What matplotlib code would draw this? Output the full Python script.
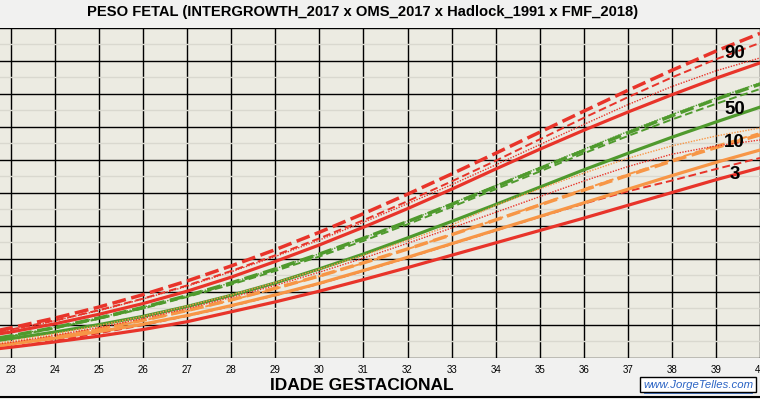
import numpy as np
import matplotlib
matplotlib.use("Agg")
from matplotlib import pyplot as plt
from matplotlib.lines import Line2D

plt.rcParams['font.family'] = ['Liberation Sans', 'DejaVu Sans']

weeks = [22, 23, 24, 25, 26, 27, 28, 29, 30, 31, 32, 33, 34, 35, 36, 37, 38, 39, 40]

# INTERGROWTH_2017 (solid)
ig_p3 = [370, 430, 495, 565, 645, 740, 860, 980, 1110, 1250, 1395, 1545, 1695, 1845, 1995, 2150, 2305, 2460, 2605]
ig_p10 = [410, 470, 540, 620, 710, 815, 935, 1065, 1205, 1360, 1520, 1685, 1850, 2015, 2180, 2345, 2510, 2670, 2820]
ig_p50 = [460, 535, 615, 705, 805, 925, 1060, 1210, 1380, 1560, 1755, 1955, 2160, 2370, 2580, 2780, 2975, 3160, 3340]
ig_p90 = [530, 615, 715, 830, 960, 1110, 1280, 1470, 1670, 1885, 2110, 2345, 2590, 2830, 3060, 3280, 3490, 3690, 3876]

# OMS_2017 (dashed)
oms_p3 = [365, 433, 510, 600, 700, 810, 930, 1060, 1200, 1355, 1515, 1680, 1845, 2010, 2170, 2320, 2450, 2590, 2724]
oms_p10 = [400, 470, 555, 650, 755, 870, 1000, 1140, 1290, 1450, 1620, 1795, 1975, 2160, 2345, 2525, 2700, 2870, 3027]
oms_p50 = [475, 560, 660, 775, 900, 1040, 1190, 1355, 1530, 1720, 1920, 2130, 2345, 2560, 2780, 2990, 3190, 3380, 3560]
oms_p90 = [545, 645, 755, 880, 1020, 1180, 1355, 1545, 1750, 1970, 2200, 2440, 2690, 2950, 3210, 3460, 3700, 3920, 4118]

# Hadlock_1991 (long dash)
had_p10 = [398, 471, 556, 652, 758, 876, 1004, 1145, 1294, 1453, 1621, 1794, 1973, 2154, 2335, 2513, 2686, 2851, 3004]
had_p50 = [478, 568, 670, 785, 913, 1055, 1210, 1379, 1559, 1751, 1953, 2162, 2377, 2595, 2813, 3028, 3236, 3435, 3619]
had_p90 = [559, 665, 784, 918, 1068, 1234, 1416, 1613, 1824, 2049, 2285, 2530, 2781, 3036, 3291, 3543, 3786, 4019, 4234]

# FMF_2018 (dotted)
fmf_p3 = [420, 490, 575, 670, 780, 900, 1035, 1180, 1340, 1510, 1690, 1875, 2065, 2255, 2445, 2620, 2770, 2870, 2942]
fmf_p10 = [430, 505, 595, 695, 805, 930, 1065, 1215, 1375, 1545, 1725, 1910, 2150, 2350, 2540, 2720, 2870, 2990, 3088]
fmf_p50 = [480, 570, 672, 788, 916, 1058, 1213, 1382, 1563, 1756, 1960, 2172, 2390, 2610, 2830, 3045, 3250, 3450, 3633]
fmf_p90 = [540, 640, 750, 875, 1015, 1170, 1345, 1530, 1730, 1945, 2170, 2400, 2640, 2885, 3130, 3370, 3590, 3780, 3936]

red = '#e8342a'
green = '#4f9a2d'
orange = '#f79646'

fig = plt.figure(figsize=(7.6, 3.99), dpi=100)
fig.patch.set_facecolor('#f1f1f0')
ax = fig.add_axes([0.0, 0.1028, 1.0, 0.8272])
ax.set_facecolor('#ecebe2')

# grid
for w in range(23, 41):
    ax.axvline(w, color='black', lw=1.0, zorder=1)
for g in np.arange(300, 4301, 400):
    ax.axhline(g, color='black', lw=1.0, zorder=1)
for g in np.arange(500, 4300, 400):
    ax.axhline(g, color='#d9d8cf', lw=1.0, zorder=1)

x = np.array(weeks)
# dashed
for ys, c in [(oms_p3, red), (oms_p10, orange), (oms_p50, green), (oms_p90, red)]:
    ax.plot(x, ys, color=c, lw=1.4, dashes=(4, 2), zorder=3)
# long dash
for ys, c in [(had_p10, orange), (had_p50, green), (had_p90, red)]:
    ax.plot(x, ys, color=c, lw=2.5, dashes=(4, 1.6), zorder=4)
# solid
for ys, c in [(ig_p3, red), (ig_p10, orange), (ig_p50, green), (ig_p90, red)]:
    ax.plot(x, ys, color=c, lw=2.3, zorder=4.5)
# dotted
for ys, c in [(fmf_p3, red), (fmf_p10, orange), (fmf_p50, green), (fmf_p90, red)]:
    ax.plot(x, ys, color=c, lw=1.0, dashes=(1, 1), zorder=5)

ax.set_xlim(22.75, 40.0)
ax.set_ylim(300, 4300)
ax.set_xticks(range(23, 41))
ax.set_yticks([])
ax.tick_params(axis='x', length=0, labelsize=7, pad=5)
for s in ax.spines.values():
    s.set_visible(False)

for txt, yv in [('90', 3990), ('50', 3310), ('10', 2910), ('3', 2520)]:
    ax.text(39.42, yv, txt, fontsize=13.5, fontweight='bold', ha='center', va='center', zorder=6)

fig.text(0.477, 0.97, 'PESO FETAL (INTERGROWTH_2017 x OMS_2017 x Hadlock_1991 x FMF_2018)',
         ha='center', va='center', fontsize=10.6, fontweight='bold')
fig.text(0.476, 0.035, 'IDADE GESTACIONAL', ha='center', va='center', fontsize=12.5, fontweight='bold')

fig.text(0.9185, 0.0355, 'www.JorgeTelles.com', ha='center', va='center', fontsize=8.2,
         style='italic', color='#2a63c4',
         bbox=dict(boxstyle='square,pad=0.22', fc='white', ec='black', lw=1))
fig.add_artist(Line2D([0.848, 0.989], [0.016, 0.016], color='#2a63c4', lw=0.6))
fig.add_artist(Line2D([0, 1], [0.004, 0.004], color='black', lw=1.5))

fig.savefig('out.png', dpi=100, facecolor=fig.get_facecolor())
